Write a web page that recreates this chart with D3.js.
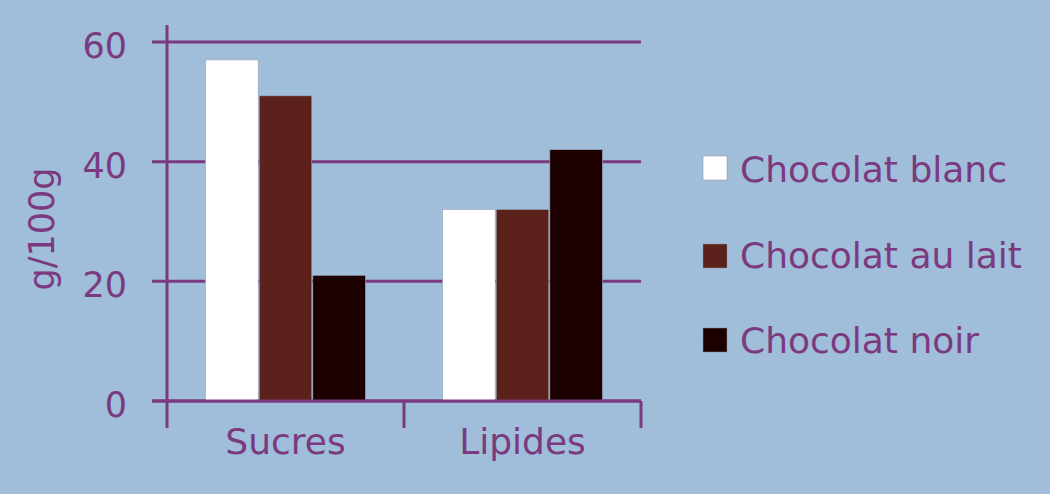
<!DOCTYPE html>
<html>
<head>
<meta charset="utf-8">
<script src="https://cdn.jsdelivr.net/npm/d3@7"></script>
<style>
  html, body { margin: 0; padding: 0; background: #a0bdd9; }
  svg { display: block; }
  text { font-family: "DejaVu Sans", sans-serif; fill: #7b3a80; }
</style>
</head>
<body>
<script>
// data
var categories = ["Sucres", "Lipides"];
var series = ["Chocolat blanc", "Chocolat au lait", "Chocolat noir"];
var blanc = [57, 32];
var lait = [51, 32];
var noir = [21, 42];
var yTicks = [0, 20, 40, 60];

var colors = ["#ffffff", "#5c211b", "#1c0000"];
var purple = "#7b3a80";
var values = [blanc, lait, noir];

var svg = d3.select("body").append("svg")
    .attr("width", 1050)
    .attr("height", 494);

var y = d3.scaleLinear().domain([0, 60]).range([401, 42]);
var x0 = d3.scaleBand().domain(categories).range([167, 641]).paddingInner(0).paddingOuter(0);
var x1 = d3.scaleBand().domain(series).range([0, x0.bandwidth()]).paddingInner(0.02).paddingOuter(0.72);

// gridlines (behind bars)
svg.append("g").selectAll("line").data(yTicks).enter().append("line")
  .attr("x1", 152).attr("x2", 641)
  .attr("y1", function (d) { return y(d); })
  .attr("y2", function (d) { return y(d); })
  .style("stroke", purple).style("stroke-width", 3);

// bars
var rows = [];
categories.forEach(function (c, i) {
  series.forEach(function (s, j) {
    rows.push({ cat: c, ser: s, v: values[j][i], col: colors[j] });
  });
});
svg.append("g").selectAll("rect").data(rows).enter().append("rect")
  .attr("x", function (d) { return x0(d.cat) + x1(d.ser); })
  .attr("y", function (d) { return y(d.v); })
  .attr("width", x1.bandwidth())
  .attr("height", function (d) { return y(0) - y(d.v); })
  .style("fill", function (d) { return d.col; })
  .style("stroke", "#9aa6bc").style("stroke-width", 0.6);

// baseline over bars
svg.append("line")
  .attr("x1", 152).attr("x2", 641).attr("y1", y(0)).attr("y2", y(0))
  .style("stroke", purple).style("stroke-width", 3);

// y axis line
svg.append("line")
  .attr("x1", 167).attr("x2", 167).attr("y1", 25).attr("y2", 428)
  .style("stroke", purple).style("stroke-width", 3);

// x ticks between categories
var xTickPos = [x0("Lipides"), 641];
svg.append("g").selectAll("line").data(xTickPos).enter().append("line")
  .attr("x1", function (d) { return d; }).attr("x2", function (d) { return d; })
  .attr("y1", y(0)).attr("y2", 428)
  .style("stroke", purple).style("stroke-width", 3);

// y tick labels
svg.append("g").selectAll("text").data(yTicks).enter().append("text")
  .attr("x", 127)
  .attr("y", function (d) { return y(d) + 16; })
  .attr("text-anchor", "end")
  .style("font-size", "35px")
  .text(function (d) { return d; });

// category labels
svg.append("g").selectAll("text").data(categories).enter().append("text")
  .attr("x", function (d) { return x0(d) + x0.bandwidth() / 2; })
  .attr("y", 454)
  .attr("text-anchor", "middle")
  .style("font-size", "36px")
  .text(function (d) { return d; });

// y axis title
svg.append("text")
  .attr("transform", "translate(54,229) rotate(-90)")
  .attr("text-anchor", "middle")
  .style("font-size", "35px")
  .text("g/100g");

// legend
var legendY = [168, 256, 340];
var legendBase = [182, 268, 353];
var legend = svg.append("g").selectAll("g").data(series).enter().append("g");
legend.append("rect")
  .attr("x", 703).attr("y", function (d, i) { return legendY[i] - 12; })
  .attr("width", 24).attr("height", 24)
  .style("fill", function (d, i) { return colors[i]; })
  .style("stroke", "#8a8a9a").style("stroke-width", 0.5);
legend.append("text")
  .attr("x", 740).attr("y", function (d, i) { return legendBase[i]; })
  .style("font-size", "36px")
  .text(function (d) { return d; });
</script>
</body>
</html>
